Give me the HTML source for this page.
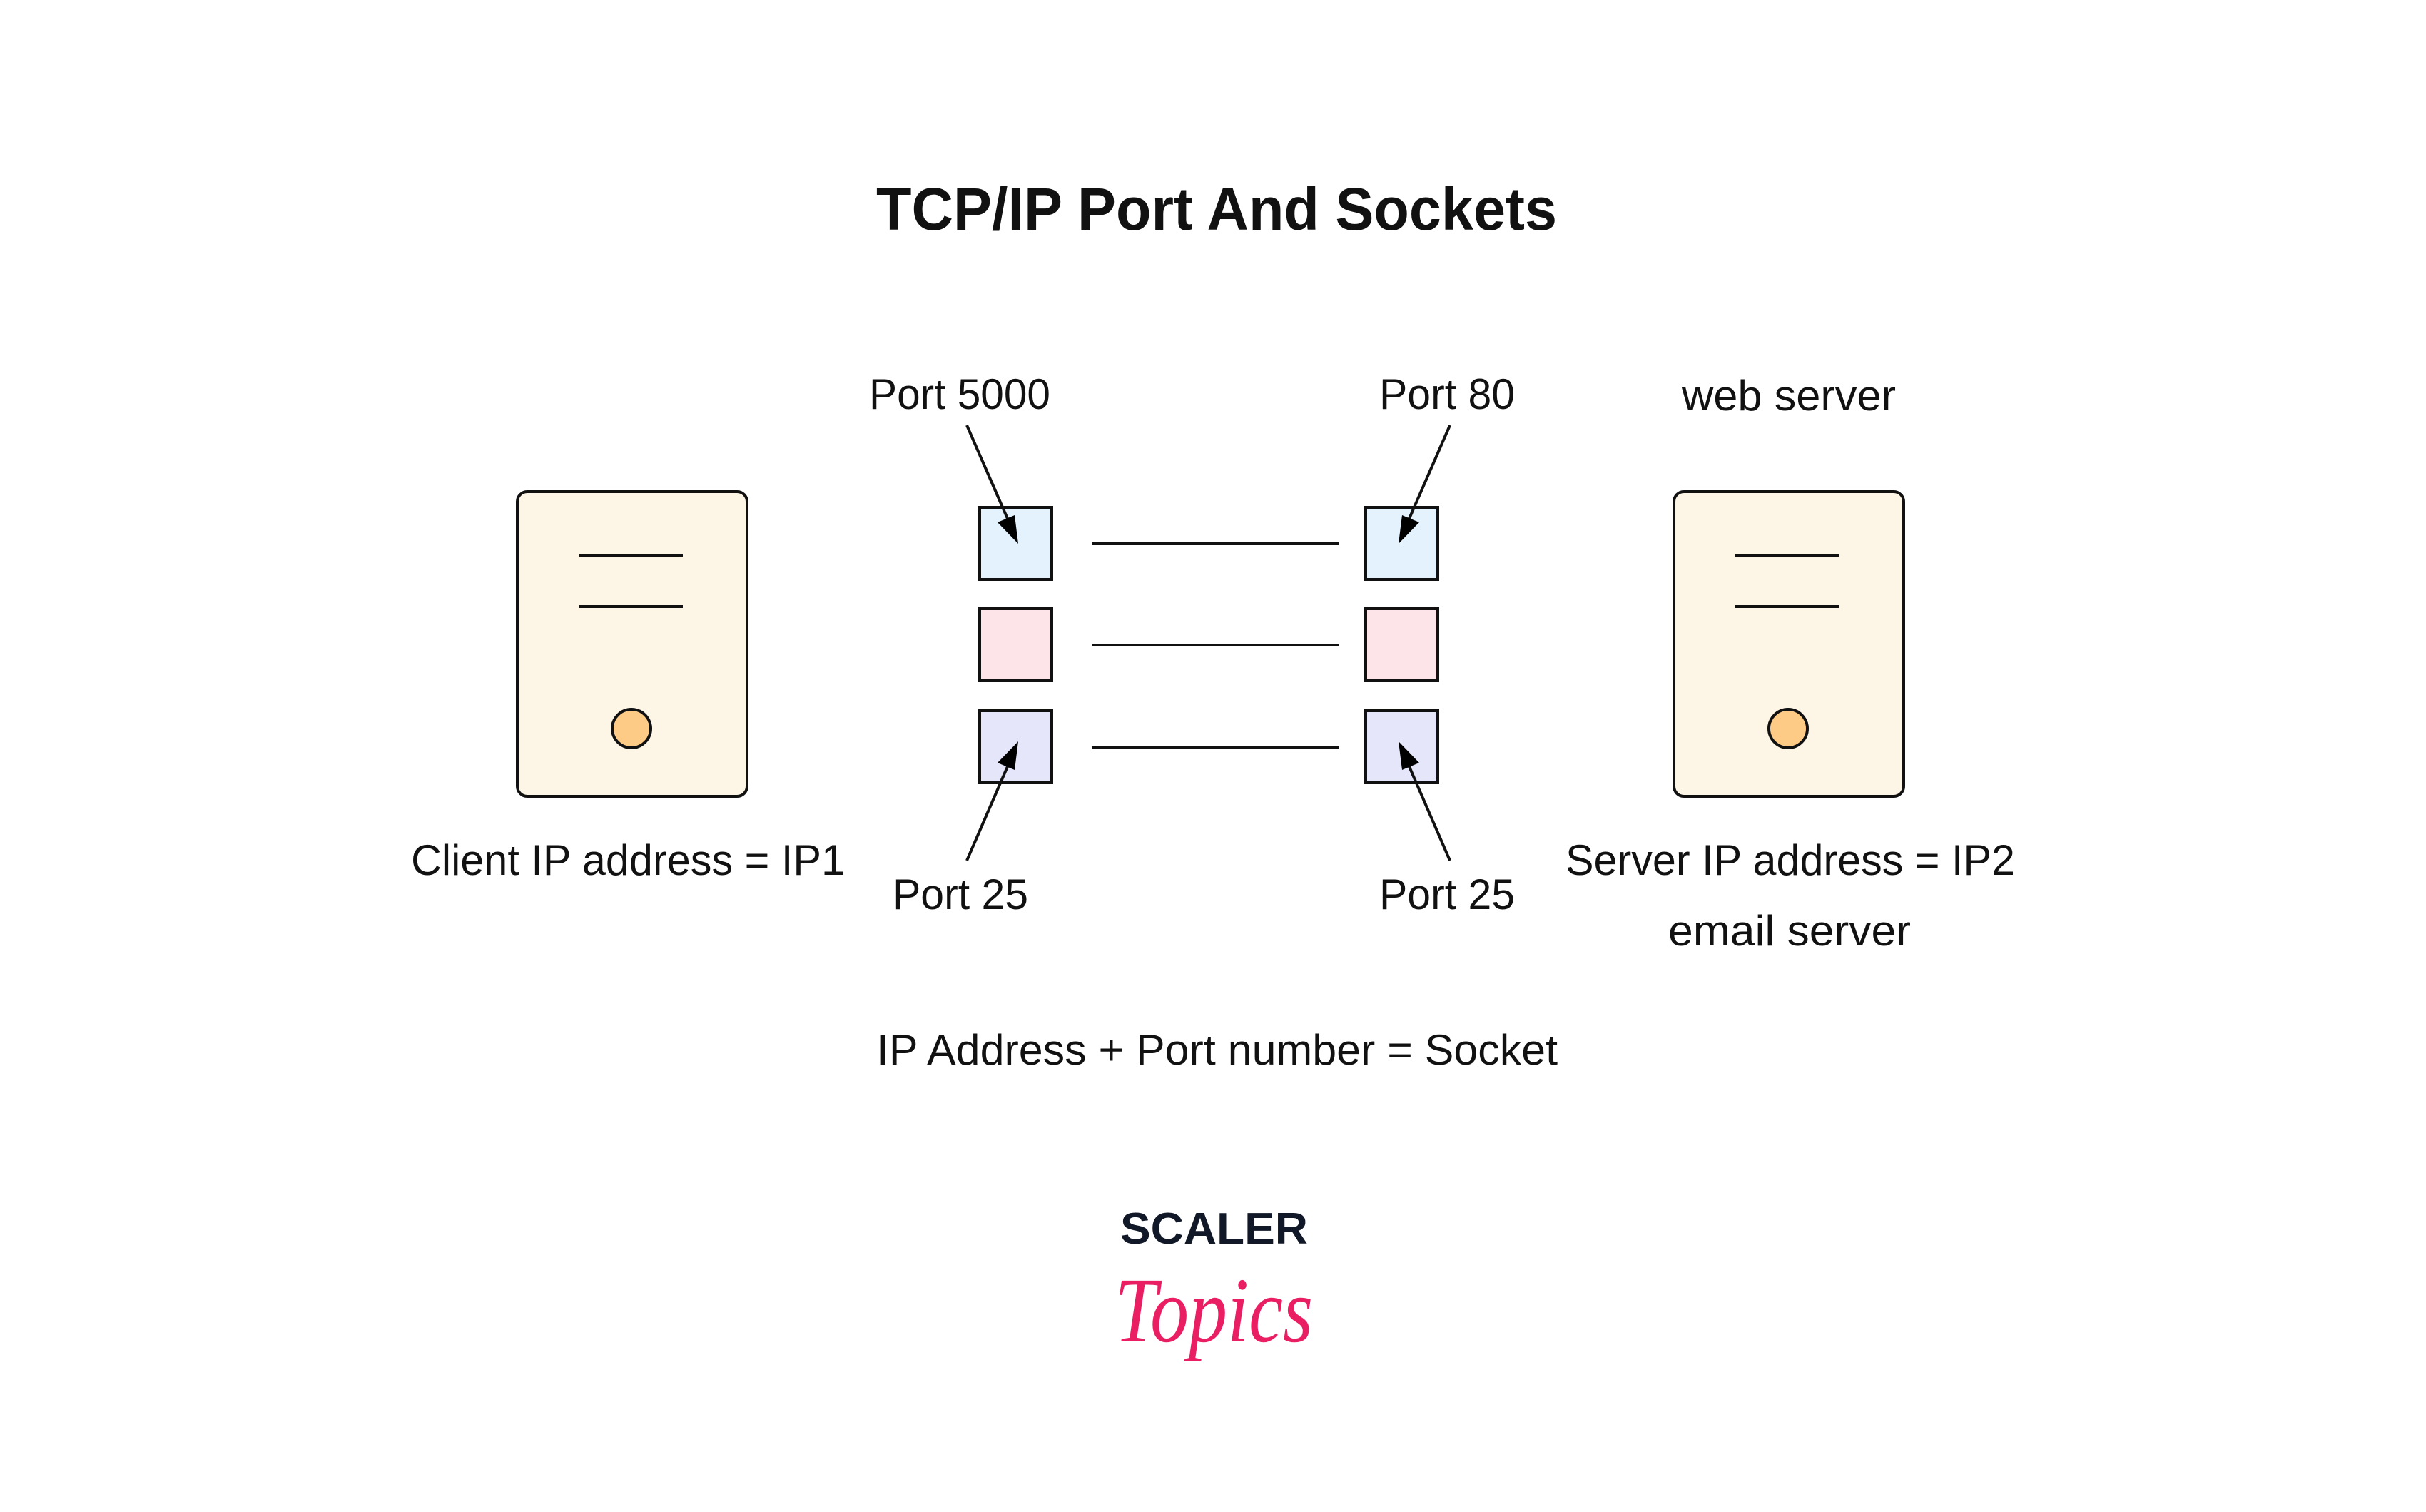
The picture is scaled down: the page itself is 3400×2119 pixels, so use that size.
<!DOCTYPE html>
<html><head><meta charset="utf-8"><style>
html,body{margin:0;padding:0;background:#fff;}
svg{display:block;}
text{font-family:"Liberation Sans",sans-serif;fill:#111;}
</style></head><body>
<svg width="3400" height="2119" viewBox="0 0 3400 2119" xmlns="http://www.w3.org/2000/svg">
<rect width="3400" height="2119" fill="#fff"/>
<text x="1228" y="322" font-size="84" font-weight="bold" textLength="954" lengthAdjust="spacingAndGlyphs">TCP/IP Port And Sockets</text>

<g stroke="#111" stroke-width="4">
<rect x="725" y="689" width="322" height="427" rx="14" fill="#FDF5E6"/>
<line x1="811" y1="778" x2="957" y2="778"/>
<line x1="811" y1="850" x2="957" y2="850"/>
<circle cx="885" cy="1021" r="27" fill="#FDCB85"/>
<rect x="2357" y="689" width="322" height="427" rx="14" fill="#FDF5E6" transform="translate(-11,0)"/>
<line x1="2432" y1="778" x2="2578" y2="778"/>
<line x1="2432" y1="850" x2="2578" y2="850"/>
<circle cx="2506" cy="1021" r="27" fill="#FDCB85"/>

<rect x="1373" y="711" width="101" height="101" fill="#E3F2FD"/>
<rect x="1373" y="853" width="101" height="101" fill="#FDE4E8"/>
<rect x="1373" y="996" width="101" height="101" fill="#E6E6FA"/>
<rect x="1914" y="711" width="101" height="101" fill="#E3F2FD"/>
<rect x="1914" y="853" width="101" height="101" fill="#FDE4E8"/>
<rect x="1914" y="996" width="101" height="101" fill="#E6E6FA"/>

<line x1="1530" y1="762" x2="1876" y2="762"/>
<line x1="1530" y1="904" x2="1876" y2="904"/>
<line x1="1530" y1="1047" x2="1876" y2="1047"/>

<line x1="1355" y1="596" x2="1416" y2="736"/>
<line x1="2032" y1="596" x2="1971" y2="736"/>
<line x1="1355" y1="1206" x2="1416" y2="1065"/>
<line x1="2032" y1="1206" x2="1971" y2="1065"/>
</g>
<g fill="#000">
<polygon points="1427,762 1398,732 1422,722"/>
<polygon points="1960,762 1965,722 1989,732"/>
<polygon points="1427,1039 1398,1069 1422,1079"/>
<polygon points="1960,1039 1965,1079 1989,1069"/>
</g>

<g font-size="60">
<text x="1218" y="573" textLength="254" lengthAdjust="spacingAndGlyphs">Port 5000</text>
<text x="1933" y="573" textLength="190" lengthAdjust="spacingAndGlyphs">Port 80</text>
<text x="2357" y="575" textLength="300" lengthAdjust="spacingAndGlyphs">web server</text>
<text x="1251" y="1274" textLength="190" lengthAdjust="spacingAndGlyphs">Port 25</text>
<text x="1933" y="1274" textLength="190" lengthAdjust="spacingAndGlyphs">Port 25</text>
<text x="576" y="1226" textLength="608" lengthAdjust="spacingAndGlyphs">Client IP address = IP1</text>
<text x="2194" y="1226" textLength="630" lengthAdjust="spacingAndGlyphs">Server IP address = IP2</text>
<text x="2338" y="1325" textLength="340" lengthAdjust="spacingAndGlyphs">email server</text>
<text x="1229" y="1492" textLength="954" lengthAdjust="spacingAndGlyphs">IP Address + Port number = Socket</text>
</g>

<text x="1570" y="1743" font-size="62" font-weight="bold" style="fill:#111827" textLength="263" lengthAdjust="spacingAndGlyphs">SCALER</text>
<text x="1562" y="1880" font-size="130" font-style="italic" style="fill:#E91E63;font-family:'Liberation Serif',serif" textLength="278" lengthAdjust="spacingAndGlyphs">Topics</text>
</svg>
</body></html>
